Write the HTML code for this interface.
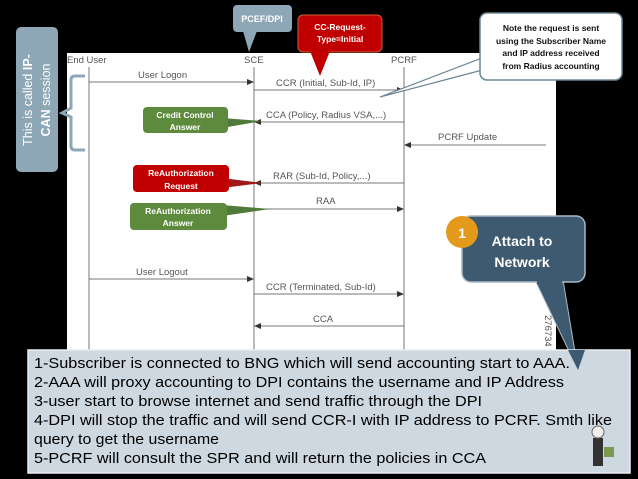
<!DOCTYPE html>
<html><head><meta charset="utf-8"><style>
html,body{margin:0;padding:0;background:#000;}
svg{display:block}
.d{font-family:"Liberation Sans",sans-serif;font-size:9.5px;fill:#555}
.c{font-family:"Liberation Sans",sans-serif;font-weight:bold;fill:#fff;text-anchor:middle}
</style></head><body>
<svg width="638" height="479" viewBox="0 0 638 479" xmlns="http://www.w3.org/2000/svg">
<rect width="638" height="479" fill="#000"/>
<rect x="67" y="53" width="489" height="300" fill="#fff"/>
<g stroke="#777" stroke-width="1">
<line x1="89" y1="67" x2="89" y2="352"/>
<line x1="254" y1="67" x2="254" y2="352"/>
<line x1="404" y1="67" x2="404" y2="352"/>
<line x1="89" y1="82" x2="250" y2="82"/>
<line x1="254" y1="90" x2="400" y2="90"/>
<line x1="258" y1="122" x2="404" y2="122"/>
<line x1="408" y1="145" x2="546" y2="145"/>
<line x1="258" y1="183" x2="404" y2="183"/>
<line x1="254" y1="209" x2="400" y2="209"/>
<line x1="89" y1="279" x2="250" y2="279"/>
<line x1="254" y1="294" x2="400" y2="294"/>
<line x1="258" y1="326" x2="404" y2="326"/>
</g>
<g fill="#333">
<polygon points="254,82 247,79 247,85"/>
<polygon points="404,90 397,87 397,93"/>
<polygon points="254,122 261,119 261,125"/>
<polygon points="404,145 411,142 411,148"/>
<polygon points="254,183 261,180 261,186"/>
<polygon points="404,209 397,206 397,212"/>
<polygon points="254,279 247,276 247,282"/>
<polygon points="404,294 397,291 397,297"/>
<polygon points="254,326 261,323 261,329"/>
</g>
<text class="d" x="67" y="63" font-size="10">End User</text>
<text class="d" x="244" y="63" font-size="10">SCE</text>
<text class="d" x="391" y="63" font-size="10">PCRF</text>
<text class="d" x="138" y="78">User Logon</text>
<text class="d" x="276" y="86">CCR (Initial, Sub-Id, IP)</text>
<text class="d" x="266" y="118">CCA (Policy, Radius VSA,...)</text>
<text class="d" x="438" y="140">PCRF Update</text>
<text class="d" x="273" y="179">RAR (Sub-Id, Policy,...)</text>
<text class="d" x="316" y="204">RAA</text>
<text class="d" x="136" y="275">User Logout</text>
<text class="d" x="266" y="290">CCR (Terminated, Sub-Id)</text>
<text class="d" x="313" y="322">CCA</text>
<text class="d" x="545" y="315" font-size="6" transform="rotate(90 545 315)">276734</text>
<rect x="16" y="27" width="42" height="145" rx="5" fill="#8ea7b7"/>
<text class="c" font-size="12.5" transform="translate(32,100) rotate(-90)" style="font-weight:normal">This is called <tspan font-weight="bold">IP-</tspan></text>
<text class="c" font-size="12.5" transform="translate(50,100) rotate(-90)">CAN <tspan style="font-weight:normal">session</tspan></text>
<path d="M85,76 L75,76 Q71,76 71,80 L71,108 L62,113 L71,117 L71,146 Q71,150 75,150 L85,150" fill="none" stroke="#8ea7b7" stroke-width="3"/>
<rect x="233" y="5" width="59" height="27" rx="4" fill="#8ea7b7"/>
<polygon points="243,31 257,31 249,52" fill="#8ea7b7"/>
<text class="c" x="262" y="22" font-size="9">PCEF/DPI</text>
<rect x="298" y="15" width="84" height="37" rx="5" fill="#c00000" stroke="#d06030"/>
<polygon points="310,51 330,51 320,76" fill="#c00000"/>
<text class="c" x="340" y="30" font-size="8.5">CC-Request-</text>
<text class="c" x="340" y="42" font-size="8.5">Type=Initial</text>
<polygon points="482,58 490,68 380,97" fill="#fff" stroke="#6b8596" stroke-width="1.2"/>
<rect x="480" y="13" width="142" height="67" rx="7" fill="#fff" stroke="#6b8596" stroke-width="1.5"/>
<rect x="482" y="55" width="14" height="16" fill="#fff"/>
<text class="c" x="551" y="31" font-size="8.5" style="fill:#111">Note the request is sent</text>
<text class="c" x="551" y="44" font-size="8.5" style="fill:#111">using the Subscriber Name</text>
<text class="c" x="551" y="56" font-size="8.5" style="fill:#111">and IP address received</text>
<text class="c" x="551" y="69" font-size="8.5" style="fill:#111">from Radius accounting</text>
<polygon points="222,118 222,128 262,121" fill="#4f7a3a"/>
<rect x="143" y="107" width="85" height="26" rx="4" fill="#5e8a3e"/>
<text class="c" x="185" y="118" font-size="8.5">Credit Control</text>
<text class="c" x="185" y="130" font-size="8.5">Answer</text>
<polygon points="222,178 222,188 262,183" fill="#a01818"/>
<rect x="133" y="165" width="96" height="27" rx="4" fill="#c00000"/>
<text class="c" x="181" y="176" font-size="8.5">ReAuthorization</text>
<text class="c" x="181" y="189" font-size="8.5">Request</text>
<polygon points="222,205 222,216 270,209" fill="#4f7a3a"/>
<rect x="130" y="203" width="97" height="27" rx="4" fill="#5e8a3e"/>
<text class="c" x="178" y="214" font-size="8.5">ReAuthorization</text>
<text class="c" x="178" y="226" font-size="8.5">Answer</text>
<polygon points="535,280 563,280 578,370" fill="#3e5a70" stroke="#a9b8c4"/>
<rect x="462" y="216" width="123" height="66" rx="9" fill="#3e5a70" stroke="#a9b8c4" stroke-width="1.5"/>
<rect x="537" y="276" width="25" height="8" fill="#3e5a70"/>
<circle cx="462" cy="232" r="16" fill="#e39a1a"/>
<text class="c" x="462" y="238" font-size="14">1</text>
<text class="c" x="522" y="246" font-size="14">Attach to</text>
<text class="c" x="522" y="267" font-size="14">Network</text>
<rect x="28" y="350" width="602" height="123" fill="#cdd8e0" stroke="#e8eef2" stroke-width="1.5"/>
<polygon points="568,350 585,350 578,370" fill="#3e5a70"/>
<g font-family="Liberation Sans, sans-serif" font-size="15" fill="#000">
<text x="34" y="368" textLength="536" lengthAdjust="spacingAndGlyphs">1-Subscriber is connected to BNG which will send accounting start to AAA.</text>
<text x="34" y="387" textLength="530" lengthAdjust="spacingAndGlyphs">2-AAA will proxy accounting to DPI contains the username and IP Address</text>
<text x="34" y="406" textLength="448" lengthAdjust="spacingAndGlyphs">3-user start to browse internet and send traffic through the DPI</text>
<text x="34" y="425" textLength="578" lengthAdjust="spacingAndGlyphs">4-DPI will stop the traffic and will send CCR-I with IP address to PCRF. Smth like</text>
<text x="34" y="444" textLength="185" lengthAdjust="spacingAndGlyphs">query to get the username</text>
<text x="34" y="463" textLength="452" lengthAdjust="spacingAndGlyphs">5-PCRF will consult the SPR and will return the policies in CCA</text>
</g>
<rect x="593" y="438" width="10" height="28" fill="#333"/>
<circle cx="598" cy="432" r="6" fill="#eee" stroke="#666"/>
<rect x="604" y="447" width="10" height="10" fill="#7a9a50"/>
</svg>
</body></html>
